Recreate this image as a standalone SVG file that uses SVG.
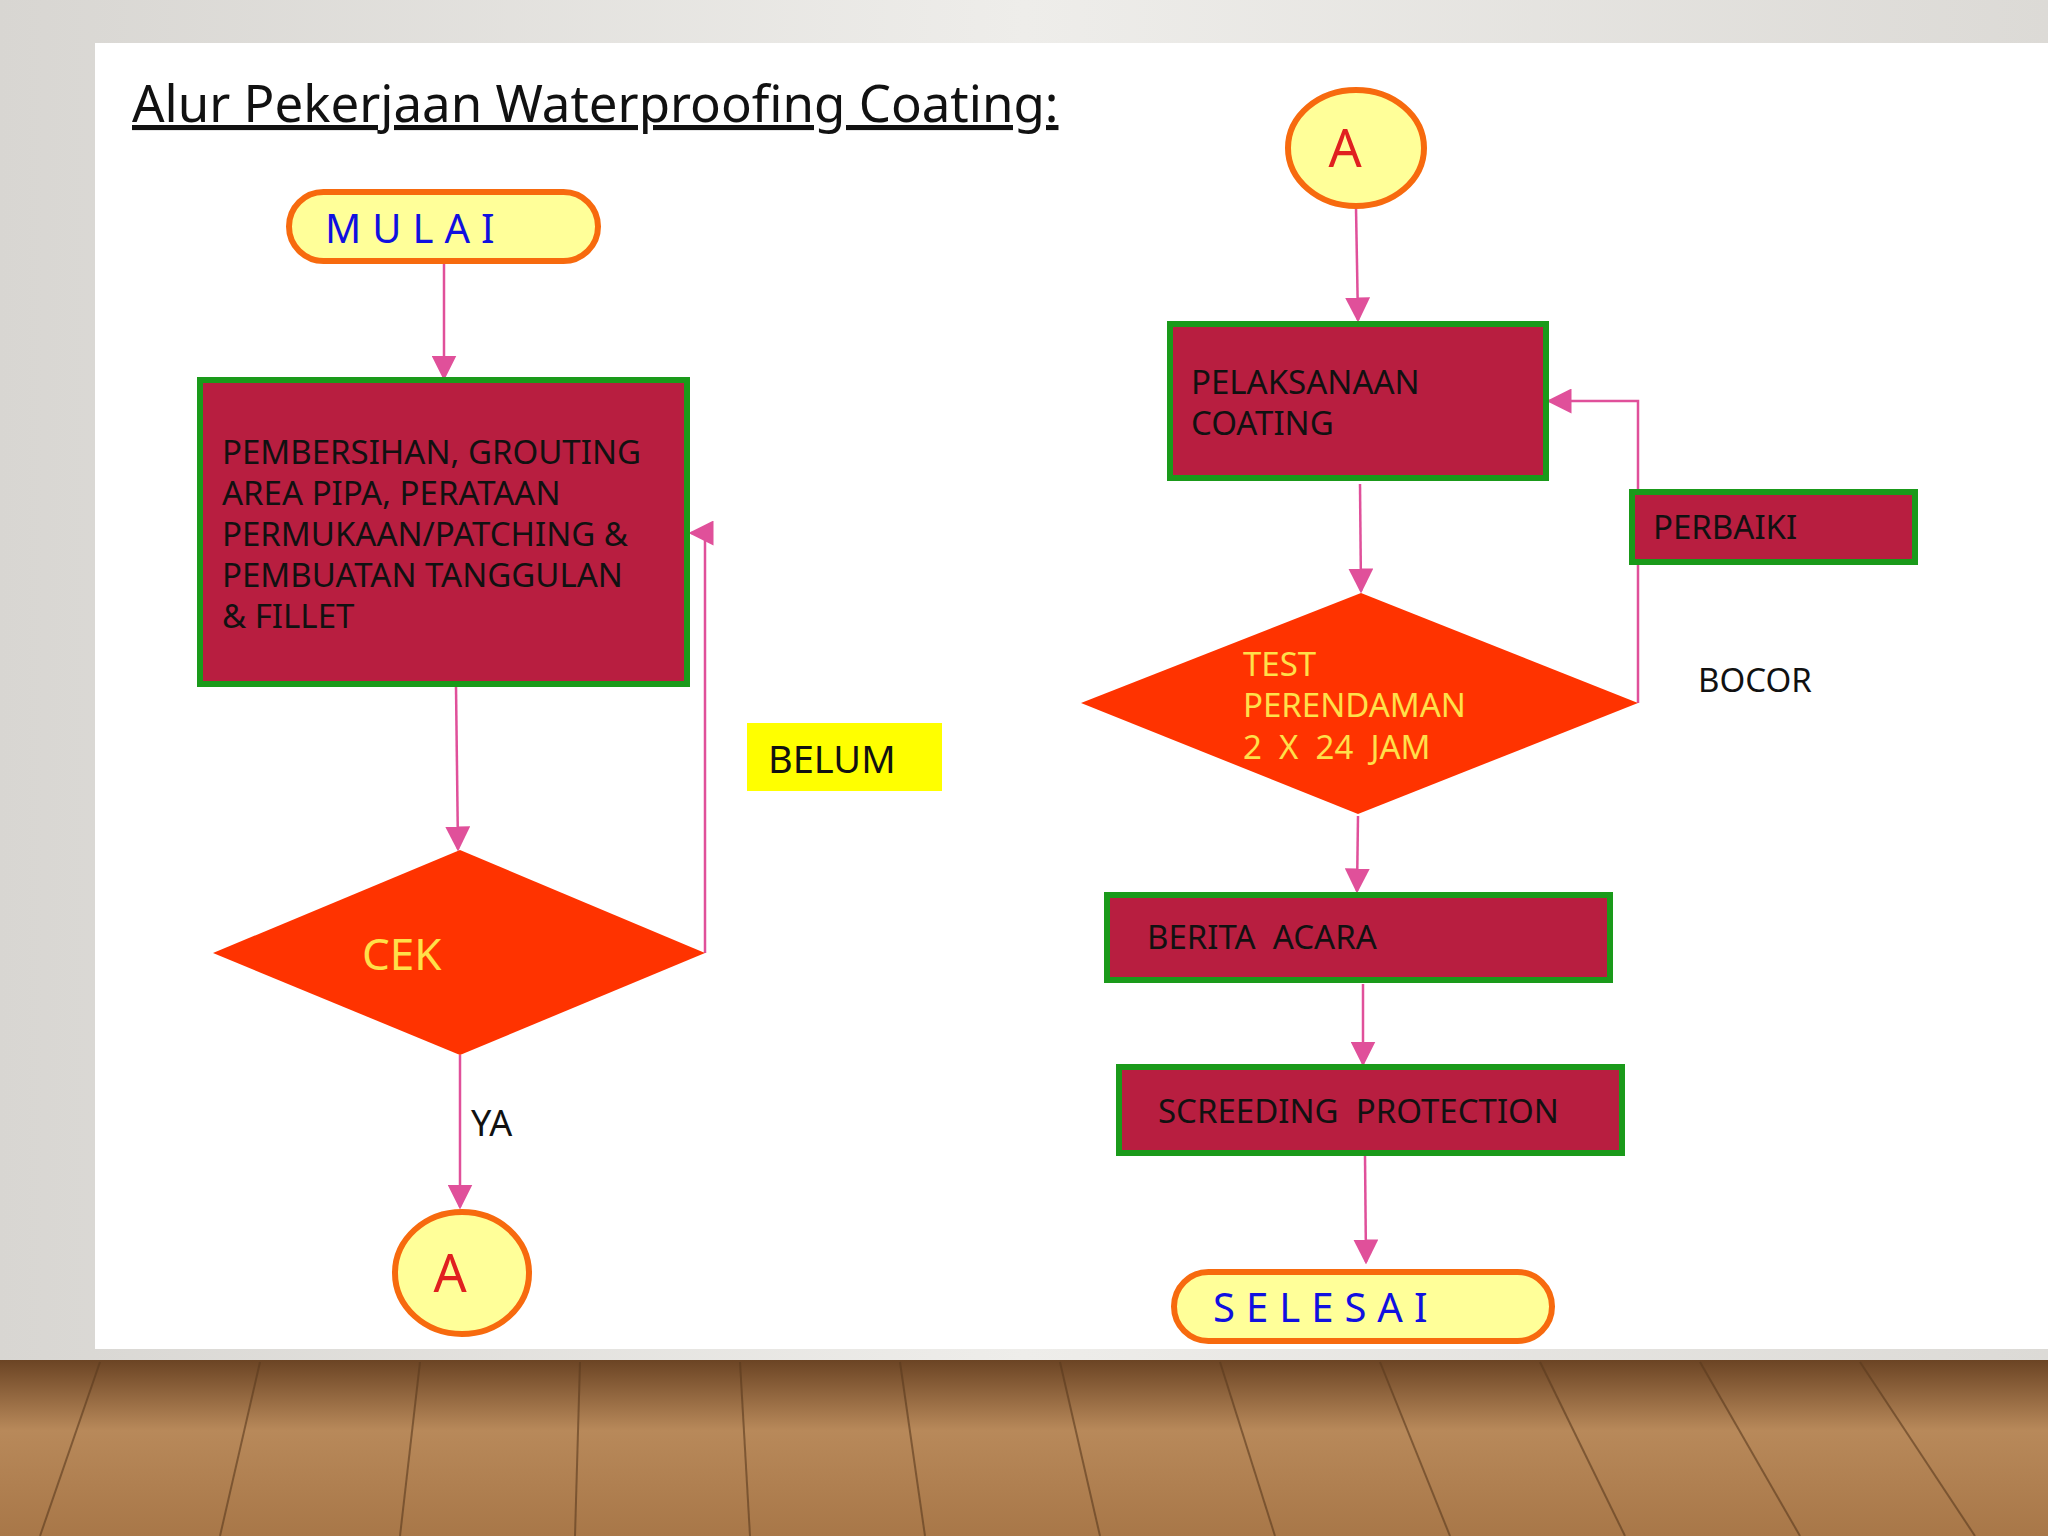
<svg xmlns="http://www.w3.org/2000/svg" width="2048" height="1536" viewBox="0 0 2048 1536">
<defs>
<linearGradient id="wall" x1="0" y1="0" x2="1" y2="0"><stop offset="0" stop-color="#d8d6d2"/><stop offset="0.5" stop-color="#eeedea"/><stop offset="1" stop-color="#dcdad6"/></linearGradient>
<linearGradient id="floor" x1="0" y1="0" x2="0" y2="1"><stop offset="0" stop-color="#6b4424"/><stop offset="0.4" stop-color="#b8895a"/><stop offset="1" stop-color="#a87748"/></linearGradient>
<marker id="ah" viewBox="0 0 10 10" refX="9" refY="5" markerWidth="10" markerHeight="10" orient="auto-start-reverse"><path d="M0,0 L10,5 L0,10 z" fill="#E0509A"/></marker>
</defs>
<style>
.t{font-family:"Noto Sans","Open Sans","DejaVu Sans",sans-serif}
.box{fill:#B81E40;stroke:#1A9A1A;stroke-width:6}
.term{fill:#FFFF99;stroke:#F76A0E;stroke-width:6}
.dia{fill:#FF3300}
.c{stroke:#E0509A;stroke-width:2.5;fill:none;marker-end:url(#ah)}
.bt{font-size:33px;fill:#111}
.yt{font-size:33px;fill:#FFE04A}
.ab{font-size:40px;fill:#1010E0;letter-spacing:11px}
</style>
<rect width="2048" height="1536" fill="url(#wall)"/>
<rect x="0" y="1360" width="2048" height="176" fill="url(#floor)"/>
<g stroke="#5a3a1e" stroke-width="2" opacity="0.6">
<line x1="100" y1="1362" x2="40" y2="1536"/><line x1="260" y1="1362" x2="220" y2="1536"/><line x1="420" y1="1362" x2="400" y2="1536"/><line x1="580" y1="1362" x2="575" y2="1536"/><line x1="740" y1="1362" x2="750" y2="1536"/><line x1="900" y1="1362" x2="925" y2="1536"/><line x1="1060" y1="1362" x2="1100" y2="1536"/><line x1="1220" y1="1362" x2="1275" y2="1536"/><line x1="1380" y1="1362" x2="1450" y2="1536"/><line x1="1540" y1="1362" x2="1625" y2="1536"/><line x1="1700" y1="1362" x2="1800" y2="1536"/><line x1="1860" y1="1362" x2="1975" y2="1536"/>
</g>
<rect x="95" y="43" width="1953" height="1306" fill="#ffffff"/>
<text class="t" x="132" y="122" font-size="51" fill="#111" text-decoration="underline">Alur Pekerjaan Waterproofing Coating:</text>

<g id="connectors">
<line class="c" x1="444" y1="261" x2="444" y2="378"/>
<line class="c" x1="456" y1="687" x2="458" y2="849"/>
<polyline class="c" points="705,953 705,533 691,533"/>
<line class="c" x1="460" y1="1055" x2="460" y2="1207"/>
<line class="c" x1="1356" y1="208" x2="1358" y2="320"/>
<line class="c" x1="1360" y1="484" x2="1361" y2="591"/>
<polyline class="c" points="1638,703 1638,401 1549,401"/>
<line class="c" x1="1358" y1="816" x2="1357" y2="891"/>
<line class="c" x1="1363" y1="984" x2="1363" y2="1064"/>
<line class="c" x1="1365" y1="1156" x2="1366" y2="1262"/>
</g>

<g id="mulai"><rect class="term" x="289" y="192" width="309" height="69" rx="34.5"/><text class="t ab" x="325" y="243">MULAI</text></g>
<g id="pembersihan"><rect class="box" x="200" y="380" width="487" height="304"/>
<text class="t bt" x="222"><tspan x="222" y="464">PEMBERSIHAN, GROUTING</tspan><tspan x="222" y="505">AREA PIPA, PERATAAN</tspan><tspan x="222" y="546">PERMUKAAN/PATCHING &amp;</tspan><tspan x="222" y="587">PEMBUATAN TANGGULAN</tspan><tspan x="222" y="628">&amp; FILLET</tspan></text></g>
<g id="cek"><polygon class="dia" points="213,953 460,850 705,953 460,1055"/><text class="t" x="362" y="970" font-size="44" fill="#FFE04A">CEK</text></g>
<g id="belum"><rect x="747" y="723" width="195" height="68" fill="#FFFF00"/><text class="t" x="768" y="773" font-size="38" fill="#111">BELUM</text></g>
<text class="t" x="471" y="1136" font-size="36" fill="#111">YA</text>
<g id="a1"><ellipse class="term" cx="462" cy="1273" rx="67" ry="61"/><text class="t" x="450" y="1292" font-size="52" fill="#E02020" text-anchor="middle">A</text></g>

<g id="a2"><ellipse class="term" cx="1356" cy="148" rx="68" ry="58"/><text class="t" x="1345" y="167" font-size="52" fill="#E02020" text-anchor="middle">A</text></g>
<g id="pelaksanaan"><rect class="box" x="1170" y="324" width="376" height="154"/><text class="t bt"><tspan x="1191" y="394">PELAKSANAAN</tspan><tspan x="1191" y="435">COATING</tspan></text></g>
<g id="test"><polygon class="dia" points="1081,703 1361,593 1638,703 1358,814"/><text class="t yt"><tspan x="1243" y="676">TEST</tspan><tspan x="1243" y="717">PERENDAMAN</tspan><tspan x="1243" y="759" xml:space="preserve">2  X  24  JAM</tspan></text></g>
<g id="perbaiki"><rect class="box" x="1632" y="492" width="283" height="70"/><text class="t bt" x="1653" y="539">PERBAIKI</text></g>
<text class="t" x="1698" y="692" font-size="33" fill="#111">BOCOR</text>
<g id="berita"><rect class="box" x="1107" y="895" width="503" height="85"/><text class="t bt" x="1147" y="949" xml:space="preserve">BERITA  ACARA</text></g>
<g id="screeding"><rect class="box" x="1119" y="1067" width="503" height="86"/><text class="t bt" x="1158" y="1123" xml:space="preserve">SCREEDING  PROTECTION</text></g>
<g id="selesai"><rect class="term" x="1174" y="1272" width="378" height="69" rx="34.5"/><text class="t ab" x="1213" y="1322">SELESAI</text></g>
</svg>
